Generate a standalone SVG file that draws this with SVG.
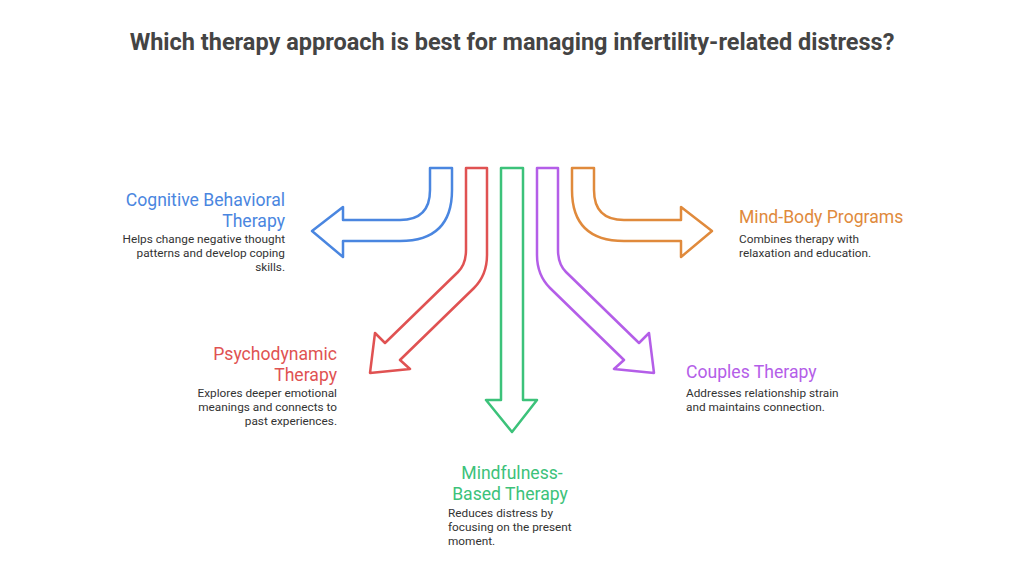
<svg xmlns="http://www.w3.org/2000/svg" width="1024" height="576" viewBox="0 0 1024 576">
<style>
.a{fill:#fff;stroke-width:2.5;stroke-linejoin:round}
.t{font-family:Roboto,"Liberation Sans",sans-serif;font-size:17.6px}
.d{font-family:Roboto,"Liberation Sans",sans-serif;font-size:11.8px;fill:#333}
.r{text-anchor:end}
</style>
<rect width="1024" height="576" fill="#fff"/>
<text x="512" y="50" text-anchor="middle" font-family="Roboto,'Liberation Sans',sans-serif" font-size="23.5" font-weight="bold" fill="#444">Which therapy approach is best for managing infertility-related distress?</text>
<g id="connectors">
<path class="a" stroke="#4a86e0" d="M430,168 L452,168 L452,190 Q452,241 400,241 L343,241 L343,257 L312,231 L343,207 L343,220 L400,220 Q430,220 430,190 Z"/>
<path class="a" stroke="#e05252" d="M466,168 L487,168 L487,255 Q487,275 474,288 L400,360 L410,369 L370,373 L375,333 L385,343 L458,272 Q466,264 466,250 Z"/>
<path class="a" stroke="#3cc27a" d="M501,168 L523,168 L523,400 L537,400 L512,432 L486,400 L501,400 Z"/>
<g transform="translate(1024,0) scale(-1,1)">
<path class="a" stroke="#b45ee8" d="M466,168 L487,168 L487,255 Q487,275 474,288 L400,360 L410,369 L370,373 L375,333 L385,343 L458,272 Q466,264 466,250 Z"/>
<path class="a" stroke="#e08a3c" d="M430,168 L452,168 L452,190 Q452,241 400,241 L343,241 L343,257 L312,231 L343,207 L343,220 L400,220 Q430,220 430,190 Z"/>
</g>
</g>
<g id="cbt">
<text class="t r" x="285" y="206" fill="#4a86e0">Cognitive Behavioral</text>
<text class="t r" x="285" y="227" fill="#4a86e0">Therapy</text>
<text class="d r" x="285" y="243">Helps change negative thought</text>
<text class="d r" x="285" y="257">patterns and develop coping</text>
<text class="d r" x="285" y="271">skills.</text>
</g>
<g id="mindbody">
<text class="t" x="739" y="223" fill="#e08a3c">Mind-Body Programs</text>
<text class="d" x="739" y="243">Combines therapy with</text>
<text class="d" x="739" y="257">relaxation and education.</text>
</g>
<g id="psycho">
<text class="t r" x="337" y="360" fill="#e05252">Psychodynamic</text>
<text class="t r" x="337" y="381" fill="#e05252">Therapy</text>
<text class="d r" x="337" y="397">Explores deeper emotional</text>
<text class="d r" x="337" y="411">meanings and connects to</text>
<text class="d r" x="337" y="425">past experiences.</text>
</g>
<g id="couples">
<text class="t" x="686" y="378" fill="#b45ee8">Couples Therapy</text>
<text class="d" x="686" y="397">Addresses relationship strain</text>
<text class="d" x="686" y="411">and maintains connection.</text>
</g>
<g id="mindfulness">
<text class="t" x="512" y="479" text-anchor="middle" fill="#3cc27a">Mindfulness-</text>
<text class="t" x="510" y="500" text-anchor="middle" fill="#3cc27a">Based Therapy</text>
<text class="d" x="448" y="517">Reduces distress by</text>
<text class="d" x="448" y="531">focusing on the present</text>
<text class="d" x="448" y="545">moment.</text>
</g>
</svg>
